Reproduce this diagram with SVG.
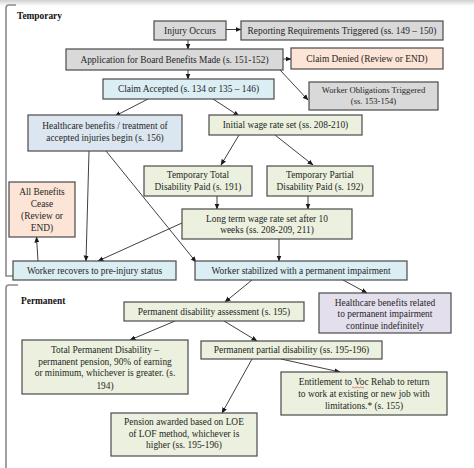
<svg xmlns="http://www.w3.org/2000/svg" width="474" height="468" viewBox="0 0 474 468">
<defs>
<linearGradient id="topshade" x1="0" y1="0" x2="0" y2="1">
<stop offset="0" stop-color="#d0d0d0"/>
<stop offset="1" stop-color="#ffffff"/>
</linearGradient>
<marker id="ah" markerUnits="userSpaceOnUse" markerWidth="6" markerHeight="6" viewBox="0 0 6 6" refX="5.5" refY="3" orient="auto">
<path d="M0,0.5 L6,3 L0,5.5 Z" fill="#1a1a1a"/>
</marker>
<style>
.box{stroke:#4a4a4a;stroke-width:1.2}
.gray{fill:#d9d9d9}
.peach{fill:#fce4d6}
.blue{fill:#daeef3}
.steel{fill:#dce6f1}
.green{fill:#ebf1de}
.lav{fill:#e4dfec}
text{font-family:"Liberation Serif","Times New Roman",serif;font-size:9.4px;fill:#262626;text-anchor:middle}
.hdr{font-weight:bold;text-anchor:start;fill:#111}
.con line{stroke:#2a2a2a;stroke-width:0.9;marker-end:url(#ah)}
.brk{fill:none;stroke:#8a8a8a;stroke-width:1.6}
</style>
</defs>
<rect x="0" y="0" width="474" height="468" fill="#ffffff"/>
<rect x="0" y="0" width="474" height="6" fill="url(#topshade)"/>

<g id="brackets">
<path class="brk" d="M16,5 L9,5 Q6,5 6,8 L6,276 L20,276"/>
<path class="brk" d="M18,285 L9,285 Q6,285 6,288 L6,468"/>
<text class="hdr" x="17" y="19">Temporary</text>
<text class="hdr" x="21" y="304">Permanent</text>
</g>

<g class="con" id="connectors">
<line x1="226" y1="29.5" x2="241" y2="29.5"/>
<line x1="188" y1="40" x2="188" y2="49"/>
<line x1="283" y1="59" x2="291" y2="59"/>
<line x1="188" y1="70" x2="188" y2="79"/>
<line x1="280" y1="70" x2="308" y2="100"/>
<line x1="148" y1="99" x2="115" y2="116"/>
<line x1="213" y1="99" x2="239" y2="116"/>
<line x1="239" y1="135" x2="221" y2="165"/>
<line x1="275" y1="135" x2="313" y2="165"/>
<line x1="217" y1="196" x2="217" y2="209"/>
<line x1="308" y1="196" x2="308" y2="209"/>
<line x1="89" y1="151" x2="86" y2="261"/>
<line x1="106" y1="151" x2="196" y2="262"/>
<line x1="182" y1="223" x2="98" y2="261"/>
<line x1="279" y1="239" x2="279" y2="261"/>
<line x1="38" y1="261" x2="36.5" y2="237"/>
<line x1="252" y1="280" x2="225" y2="302"/>
<line x1="343" y1="280" x2="367" y2="293"/>
<line x1="175" y1="321" x2="130" y2="340"/>
<line x1="224" y1="321" x2="257" y2="341"/>
<line x1="252" y1="359" x2="222" y2="413"/>
<line x1="281" y1="359" x2="340" y2="372"/>
</g>

<g id="n-injury"><rect class="box gray" x="154" y="21" width="72" height="19"/><text x="190" y="33.5">Injury Occurs</text></g>
<g id="n-reporting"><rect class="box gray" x="241" y="21" width="202" height="19"/><text x="342" y="33.5">Reporting Requirements Triggered (ss. 149 – 150)</text></g>
<g id="n-application"><rect class="box gray" x="66" y="49" width="217" height="21"/><text x="174.5" y="62.8">Application for Board Benefits Made (s. 151-152)</text></g>
<g id="n-denied"><rect class="box peach" x="291" y="48" width="152" height="21"/><text x="367" y="61.8">Claim Denied (Review or END)</text></g>
<g id="n-accepted"><rect class="box blue" x="103" y="79" width="171" height="20"/><text x="188.5" y="92.3">Claim Accepted (s. 134 or 135 – 146)</text></g>
<g id="n-obligations"><rect class="box gray" x="309" y="82" width="129" height="28"/><text x="373.5" y="93" style="font-size:8.6px">Worker Obligations Triggered</text><text x="373.5" y="104" style="font-size:8.6px">(ss. 153-154)</text></g>
<g id="n-healthcare"><rect class="box steel" x="28" y="115" width="154" height="36"/><text x="105" y="129.3">Healthcare benefits / treatment of</text><text x="105" y="141.3">accepted injuries begin (s. 156)</text></g>
<g id="n-initial"><rect class="box green" x="209" y="115" width="153" height="20"/><text x="285.5" y="128.3">Initial wage rate set (ss. 208-210)</text></g>
<g id="n-ttd"><rect class="box green" x="144" y="166" width="108" height="30"/><text x="198" y="178.3">Temporary Total</text><text x="198" y="190.3">Disability Paid (s. 191)</text></g>
<g id="n-tpd"><rect class="box green" x="267" y="166" width="106" height="30"/><text x="320" y="178.3">Temporary Partial</text><text x="320" y="190.3">Disability Paid (s. 192)</text></g>
<g id="n-longterm"><rect class="box green" x="182" y="209" width="170" height="30"/><text x="267" y="222.3">Long term wage rate set after 10</text><text x="267" y="233.3">weeks (ss. 208-209, 211)</text></g>
<g id="n-cease"><rect class="box peach" x="9" y="182" width="66" height="55"/><text x="42" y="195.3">All Benefits</text><text x="42" y="207.3">Cease</text><text x="42" y="219.3">(Review or</text><text x="42" y="231.3">END)</text></g>
<g id="n-recovers"><rect class="box blue" x="13" y="261" width="163" height="19"/><text x="94.5" y="273.8">Worker recovers to pre-injury status</text></g>
<g id="n-stabilized"><rect class="box blue" x="195" y="261" width="212" height="19"/><text x="301" y="273.8">Worker stabilized with a permanent impairment</text></g>
<g id="n-assessment"><rect class="box green" x="124" y="302" width="180" height="19"/><text x="214" y="314.8">Permanent disability assessment (s. 195)</text></g>
<g id="n-hc-perm"><rect class="box lav" x="319" y="293" width="132" height="40"/><text x="385" y="306.3">Healthcare benefits related</text><text x="385" y="317.3">to permanent impairment</text><text x="385" y="329.3">continue indefinitely</text></g>
<g id="n-total"><rect class="box green" x="22" y="340" width="166" height="54"/><text x="105" y="353.3">Total Permanent Disability –</text><text x="105" y="365.3">permanent pension, 90% of earning</text><text x="105" y="376.3">or minimum, whichever is greater. (s.</text><text x="105" y="389.3">194)</text></g>
<g id="n-partial"><rect class="box green" x="201" y="341" width="181" height="18"/><text x="291.5" y="353.3">Permanent partial disability (ss. 195-196)</text></g>
<g id="n-vocrehab"><rect class="box green" x="281" y="372" width="166" height="43"/><text x="364" y="385.3">Entitlement to <tspan id="voc">Voc</tspan> Rehab to return</text><text x="364" y="397.3">to work at existing or new job with</text><text x="364" y="409.3">limitations.* (s. 155)</text>
<path d="M352,387.5 q1,-1 2,0 t2,0 t2,0 t2,0 t2,0 t2,0" fill="none" stroke="#e03030" stroke-width="0.6"/></g>
<g id="n-pension"><rect class="box green" x="111" y="413" width="146" height="43"/><text x="184" y="425.3">Pension awarded based on LOE</text><text x="184" y="437.3">of LOF method, whichever is</text><text x="184" y="448.3">higher (ss. 195-196)</text></g>
</svg>
